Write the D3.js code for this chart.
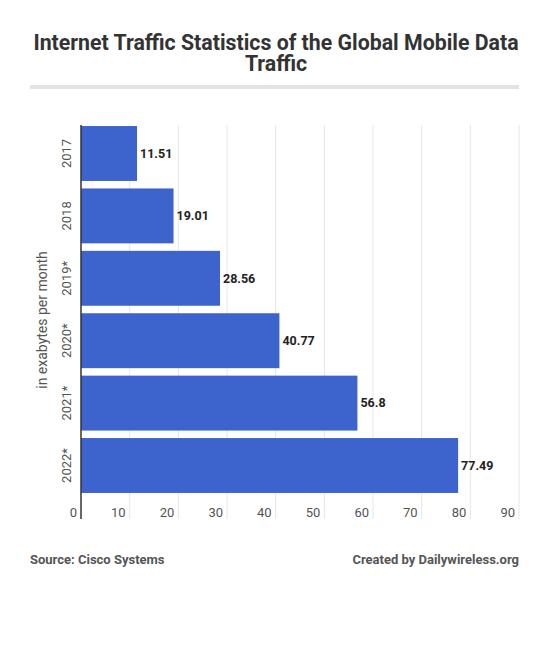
<!DOCTYPE html>
<html><head><meta charset="utf-8">
<script src="https://cdn.jsdelivr.net/npm/d3@7"></script>
<style>body{margin:0;background:#fff;font-family:Roboto,"Noto Sans",sans-serif;}</style>
</head><body><svg id="c" width="550" height="649"></svg>
<script>
const categories = ["2017","2018","2019*","2020*","2021*","2022*"];
const values = [11.51, 19.01, 28.56, 40.77, 56.8, 77.49];
const tickValues = [0,10,20,30,40,50,60,70,80,90];
const title = ["Internet Traffic Statistics of the Global Mobile Data","Traffic"];
const yTitle = "in exabytes per month";
const source = "Source: Cisco Systems";
const credit = "Created by Dailywireless.org";

const svg = d3.select("#c");
svg.append("rect").attr("width",550).attr("height",649).attr("fill","#fff");

svg.selectAll("text.title").data(title).join("text").attr("class","title")
  .attr("text-anchor","middle").attr("fill","#333")
  .attr("font-weight","bold").attr("font-size",21.3)
  .attr("x",276).attr("y",(d,i)=>49.5+i*21.5).text(d=>d);

svg.append("rect").attr("x",30).attr("y",85).attr("width",489).attr("height",4).attr("fill","#e3e3e3");

const x = d3.scaleLinear().domain([0,90]).range([81,519]);
const y = d3.scaleBand().domain(categories).range([122.3,496.7]).paddingInner(0.12).paddingOuter(0.06);

const g = svg.append("g");
g.selectAll("line.grid").data(tickValues.slice(1)).join("line").attr("class","grid")
  .attr("x1",d=>x(d)).attr("x2",d=>x(d)).attr("y1",125).attr("y2",519)
  .attr("stroke","#e6e6e6").attr("stroke-width",1);

g.selectAll("text.tick").data(tickValues).join("text").attr("class","tick")
  .attr("x",d=>x(d)-4).attr("y",516.5).attr("text-anchor","end")
  .attr("font-size",13).attr("fill","#555").text(d=>d);

g.selectAll("rect.bar").data(values).join("rect").attr("class","bar")
  .attr("x",x(0)).attr("y",(d,i)=>y(categories[i]))
  .attr("width",d=>x(d)-x(0)).attr("height",y.bandwidth())
  .attr("fill","#3d63cd");

g.selectAll("text.val").data(values).join("text").attr("class","val")
  .attr("x",d=>x(d)+3).attr("y",(d,i)=>y(categories[i])+y.bandwidth()/2)
  .attr("dy","0.35em").attr("font-size",12.5).attr("font-weight","bold").attr("fill","#222")
  .text(d=>d);

g.selectAll("text.cat").data(categories).join("text").attr("class","cat")
  .attr("transform",d=>`translate(71,${y(d)+y.bandwidth()/2}) rotate(-90)`)
  .attr("text-anchor","middle").attr("font-size",13).attr("fill","#555").text(d=>d);

svg.append("line").attr("x1",81).attr("x2",81).attr("y1",125).attr("y2",519)
  .attr("stroke","#333").attr("stroke-width",1.5);

svg.append("text").attr("transform","translate(47,320) rotate(-90)")
  .attr("text-anchor","middle").attr("font-size",14).attr("fill","#555").text(yTitle);

svg.append("text").attr("x",30).attr("y",564).attr("font-size",13).attr("font-weight","bold")
  .attr("fill","#555").text(source);
svg.append("text").attr("x",519).attr("y",564).attr("text-anchor","end").attr("font-size",13)
  .attr("font-weight","bold").attr("fill","#555").text(credit);
</script></body></html>
